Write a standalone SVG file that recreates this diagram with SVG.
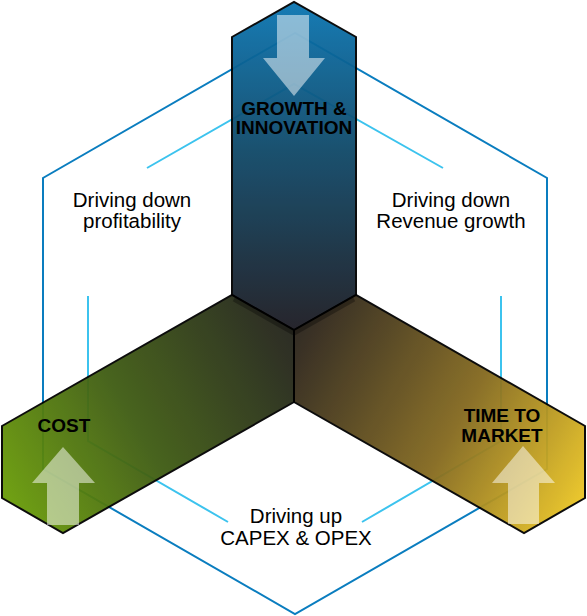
<svg xmlns="http://www.w3.org/2000/svg" width="587" height="616" viewBox="0 0 587 616">
<defs>
<linearGradient id="gBlue" x1="0" y1="2" x2="0" y2="330" gradientUnits="userSpaceOnUse">
<stop offset="0" stop-color="#0a75b2"/>
<stop offset="0.45" stop-color="#0e4868"/>
<stop offset="1" stop-color="#1c1a21"/>
</linearGradient>
<linearGradient id="gGreen" x1="20" y1="515" x2="300" y2="360" gradientUnits="userSpaceOnUse">
<stop offset="0" stop-color="#689a08"/>
<stop offset="0.45" stop-color="#3f5c12"/>
<stop offset="1" stop-color="#23241a"/>
</linearGradient>
<linearGradient id="gGold" x1="575" y1="515" x2="290" y2="355" gradientUnits="userSpaceOnUse">
<stop offset="0" stop-color="#ebc523"/>
<stop offset="0.45" stop-color="#84691e"/>
<stop offset="1" stop-color="#2c241a"/>
</linearGradient>
<style>
.outer{fill:none;stroke:#0a7dbf;stroke-width:2}
.inner{fill:none;stroke:#3cc3ee;stroke-width:2}
.arm{stroke:#000;stroke-width:2;stroke-linejoin:miter;opacity:0.95}
.arrow{fill:#fff;fill-opacity:0.5}
.lbl{font-family:"Liberation Sans",Arial,sans-serif;font-weight:bold;font-size:19px;fill:#000;text-anchor:middle}
.txt{font-family:"Liberation Sans",Arial,sans-serif;font-size:20.5px;fill:#000;text-anchor:middle}
.shade{fill:none;stroke:#000;stroke-opacity:0.3;stroke-width:5}
</style>
</defs>
<rect width="587" height="616" fill="#fff"/>
<g id="connectors">
<polygon class="outer" points="295,33 43,178 43,469 295,614 547,469 547,178"/>
<polyline class="inner" points="147,168 294,84 443,168"/>
<polyline class="inner" points="88,296 88,441 228,522"/>
<polyline class="inner" points="501,296 501,441 362,522"/>
</g>
<g id="growth">
<polygon class="arm" fill="url(#gBlue)" points="232,37 294,2 356,37 356,295 294,330 232,295"/>
<polygon class="arrow" points="277,15 309,15 309,58 325,58 294,96 263,58 277,58"/>
<text class="lbl" x="294" y="115">GROWTH &amp;</text>
<text class="lbl" x="294" y="134">INNOVATION</text>
</g>
<g id="cost">
<polygon class="arm" fill="url(#gGreen)" points="2,426 232,295 294,330 294,402 63,533 2,498"/>
<polyline class="shade" points="234,299 294,333"/>
<polygon class="arrow" points="63,447 95,483 79,483 79,525 47,525 47,483 32,483"/>
<text class="lbl" x="64" y="432">COST</text>
</g>
<g id="time">
<polygon class="arm" fill="url(#gGold)" points="294,330 356,295 585,426 585,498 524,533 294,402"/>
<polyline class="shade" points="294,333 354,299"/>
<polygon class="arrow" points="523,446 555,483 539,483 539,524 508,524 508,483 492,483"/>
<text class="lbl" x="502" y="422">TIME TO</text>
<text class="lbl" x="502" y="442">MARKET</text>
</g>
<g id="profitability">
<text class="txt" x="132" y="207">Driving down</text>
<text class="txt" x="132" y="228">profitability</text>
</g>
<g id="revenue">
<text class="txt" x="451" y="207">Driving down</text>
<text class="txt" x="451" y="228">Revenue growth</text>
</g>
<g id="capex">
<text class="txt" x="296" y="523">Driving up</text>
<text class="txt" x="296" y="545">CAPEX &amp; OPEX</text>
</g>
</svg>
